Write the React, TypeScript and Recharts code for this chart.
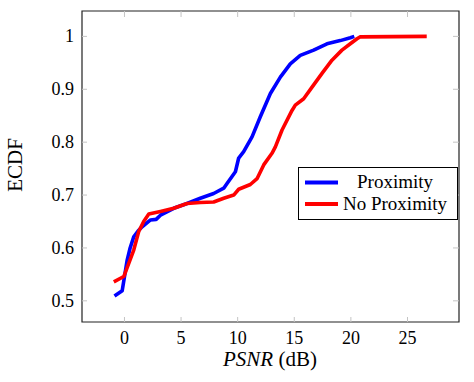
import React from 'react';
import { LineChart, Line, XAxis, YAxis, Legend, Label, ReferenceLine, ReferenceArea } from 'recharts';

const xTicks = [0, 5, 10, 15, 20, 25];
const yTicks = [0.5, 0.6, 0.7, 0.8, 0.9, 1];
const xDomain = [-3.75, 29.55];
const yDomain = [0.46, 1.048];
const seriesNames = ['Proximity', 'No Proximity'];

const proxX = [-0.88, -0.2, 0.24, 0.5, 0.82, 1.2, 1.56, 2.3, 2.8, 3.18, 4.35, 5.53, 6.7, 7.88, 8.77, 9.06, 9.8, 10.09, 10.53, 11.27, 12.0, 12.89, 13.77, 14.65, 15.53, 16.71, 17.89, 19.06, 19.95, 20.3];
const proxY = [0.509, 0.519, 0.577, 0.6, 0.621, 0.632, 0.64, 0.653, 0.654, 0.662, 0.675, 0.684, 0.694, 0.703, 0.713, 0.722, 0.744, 0.77, 0.782, 0.81, 0.848, 0.892, 0.923, 0.948, 0.964, 0.974, 0.986, 0.992, 0.9975, 1.0];

const noProxX = [-0.94, -0.06, 0.38, 0.82, 1.26, 1.7, 2.15, 3.18, 4.35, 5.53, 6.7, 7.88, 8.77, 9.65, 10.09, 11.12, 11.71, 12.3, 13.03, 13.33, 13.92, 14.8, 15.09, 15.83, 16.57, 17.45, 18.33, 19.21, 19.95, 20.54, 20.8, 26.7];
const noProxY = [0.536, 0.546, 0.571, 0.596, 0.631, 0.65, 0.664, 0.669, 0.675, 0.684, 0.686, 0.687, 0.694, 0.7, 0.711, 0.72, 0.731, 0.757, 0.779, 0.791, 0.823, 0.86, 0.87, 0.882, 0.904, 0.93, 0.955, 0.974, 0.986, 0.9956, 0.999, 1.0];

const proxData = proxX.map((x, i) => ({ x, y: proxY[i] }));
const noProxData = noProxX.map((x, i) => ({ x, y: noProxY[i] }));

const FONT = 'Liberation Serif';
const BLUE = '#0000ff';
const RED = '#ff0000';
const FRAME = '#222';
const TICK = '#c4c4c4';

const renderXTick = (props: any) => {
  const { x, y, payload } = props;
  return (
    <text x={x} y={y + 12} textAnchor="middle" fontFamily={FONT} fontSize={18} fill="#000">
      {String(payload.value)}
    </text>
  );
};

const renderYTick = (props: any) => {
  const { x, y, payload } = props;
  const v = payload.value as number;
  return (
    <text x={x} y={y + 6} textAnchor="end" fontFamily={FONT} fontSize={18} fill="#000">
      {v === 1 ? '1' : v.toFixed(1)}
    </text>
  );
};

const TopTick = (p: any) => {
  const yTop = Math.min(p.y1, p.y2);
  return <line x1={p.x1} x2={p.x1} y1={yTop} y2={yTop + 6} stroke={TICK} strokeWidth={1} />;
};

const RightTick = (p: any) => {
  const xR = Math.max(p.x1, p.x2);
  return <line x1={xR - 6} x2={xR} y1={p.y1} y2={p.y1} stroke={TICK} strokeWidth={1} />;
};

function LegendBox() {
  return (
    <svg width={160} height={53} style={{ display: 'block' }}>
      <rect x={0.5} y={0.5} width={159} height={52} fill="#fff" stroke="#000" strokeWidth={1} />
      <line x1={7} x2={40} y1={15.5} y2={15.5} stroke={BLUE} strokeWidth={4} />
      <text x={97} y={20.7} textAnchor="middle" fontFamily={FONT} fontSize={19} fill="#000">{seriesNames[0]}</text>
      <line x1={7} x2={40} y1={37} y2={37} stroke={RED} strokeWidth={4} />
      <text x={97} y={42.7} textAnchor="middle" fontFamily={FONT} fontSize={19} fill="#000">{seriesNames[1]}</text>
    </svg>
  );
}

export default function App() {
  return (
    <div style={{ position: 'absolute', left: 0, top: 0, width: 474, height: 382, background: '#fff' }}>
      <LineChart width={474} height={382} margin={{ top: 11, right: 15, bottom: 0, left: 0 }}>
        <XAxis
          xAxisId="b"
          type="number"
          dataKey="x"
          domain={xDomain}
          allowDataOverflow
          ticks={xTicks}
          interval={0}
          height={60}
          tickSize={-5}
          tickMargin={15}
          axisLine={false}
          tickLine={{ stroke: TICK }}
          tick={renderXTick}
        >
          <Label
            content={() => (
              <text x={270} y={366} textAnchor="middle" fontFamily={FONT} fontSize={21} fill="#000">
                <tspan fontStyle="italic">PSNR</tspan>
                <tspan> (dB)</tspan>
              </text>
            )}
          />
        </XAxis>
        <YAxis
          yAxisId="l"
          type="number"
          dataKey="y"
          domain={yDomain}
          allowDataOverflow
          ticks={yTicks}
          interval={0}
          width={82}
          tickSize={-5}
          tickMargin={13}
          axisLine={false}
          tickLine={{ stroke: TICK }}
          tick={renderYTick}
        >
          <Label
            content={() => (
              <text x={21.5} y={165} textAnchor="middle" fontFamily={FONT} fontSize={21} fill="#000" transform="rotate(-90 21.5 165)">
                ECDF
              </text>
            )}
          />
        </YAxis>
        <ReferenceArea
          xAxisId="b"
          yAxisId="l"
          x1={xDomain[0]}
          x2={xDomain[1]}
          y1={yDomain[0]}
          y2={yDomain[1]}
          ifOverflow="visible"
          fill="#ffffff"
          fillOpacity={0}
          stroke={FRAME}
          strokeWidth={1.2}
          strokeOpacity={1}
        />
        {xTicks.map((t) => (
          <ReferenceLine key={'tx' + t} xAxisId="b" yAxisId="l" x={t} ifOverflow="visible" shape={TopTick} />
        ))}
        {yTicks.map((t) => (
          <ReferenceLine key={'ty' + t} xAxisId="b" yAxisId="l" y={t} ifOverflow="visible" shape={RightTick} />
        ))}
        <Line
          xAxisId="b"
          yAxisId="l"
          data={proxData}
          dataKey="y"
          name={seriesNames[0]}
          type="linear"
          stroke={BLUE}
          strokeWidth={3.6}
          dot={false}
          strokeLinejoin="round"
          isAnimationActive={false}
        />
        <Line
          xAxisId="b"
          yAxisId="l"
          data={noProxData}
          dataKey="y"
          name={seriesNames[1]}
          type="linear"
          stroke={RED}
          strokeWidth={3.6}
          dot={false}
          strokeLinejoin="round"
          isAnimationActive={false}
        />
        <Legend
          layout="horizontal"
          verticalAlign="middle"
          align="center"
          content={() => <LegendBox />}
          wrapperStyle={{ left: 298, top: 167, width: 160, height: 53 }}
        />
      </LineChart>
    </div>
  );
}
